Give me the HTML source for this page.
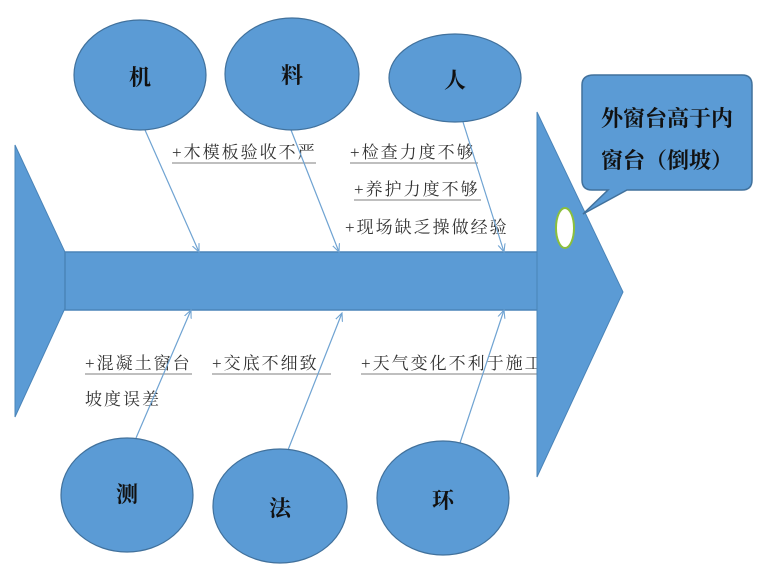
<!DOCTYPE html>
<html><head><meta charset="utf-8"><style>
html,body{margin:0;padding:0;background:#fff;width:760px;height:570px;overflow:hidden}
text{font-family:"Liberation Serif","Noto Serif CJK SC","Noto Sans CJK SC",serif}
</style></head><body>
<svg width="760" height="570" viewBox="0 0 760 570" xmlns="http://www.w3.org/2000/svg">
<defs>
<marker id="a" viewBox="0 0 10 10" refX="9" refY="5" markerWidth="9" markerHeight="9" orient="auto" markerUnits="userSpaceOnUse">
<path d="M0,1 L9,5 L0,9" fill="none" stroke="#6fa3d2" stroke-width="1.2"/></marker>
</defs>
<polygon points="15,145 78,280 15,417" fill="#5b9bd5" stroke="#4a84b8" stroke-width="1"/>
<rect x="65" y="252" width="475" height="58" fill="#5b9bd5" stroke="#4a84b8" stroke-width="1.5"/>
<g font-size="17" fill="#333" letter-spacing="2">
<text x="172" y="158">+木模板验收不严</text>
<text x="350" y="158">+检查力度不够</text>
<text x="354" y="195">+养护力度不够</text>
<text x="345" y="233">+现场缺乏操做经验</text>
<text x="85" y="369">+混凝土窗台</text>
<text x="85" y="405">坡度误差</text>
<text x="212" y="369">+交底不细致</text>
<text x="361" y="369">+天气变化不利于施工</text>
</g>
<g stroke="#aaa" stroke-width="1.5">
<line x1="172" y1="163" x2="316" y2="163"/>
<line x1="350" y1="163" x2="478" y2="163"/>
<line x1="354" y1="200" x2="481" y2="200"/>
<line x1="85" y1="374" x2="192" y2="374"/>
<line x1="212" y1="374" x2="331" y2="374"/>
<line x1="361" y1="374" x2="537" y2="374"/>
</g>
<g stroke="#6fa3d2" stroke-width="1.2" marker-end="url(#a)">
<line x1="145" y1="130" x2="199" y2="252"/>
<line x1="291" y1="130" x2="339" y2="252"/>
<line x1="463" y1="122" x2="504" y2="252"/>
<line x1="136" y1="438" x2="191" y2="310"/>
<line x1="288" y1="450" x2="342" y2="313"/>
<line x1="460" y1="443" x2="504" y2="310"/>
</g>
<polygon points="537,112 623,292 537,477" fill="#5b9bd5" stroke="#4a84b8" stroke-width="1"/>
<ellipse cx="565" cy="228" rx="9" ry="20" fill="#fff" stroke="#8bbf3c" stroke-width="2"/>
<path d="M594,75 H742 Q752,75 752,85 V180 Q752,190 742,190 H627 L583,214 L608,190 H592 Q582,190 582,180 V85 Q582,75 594,75 Z" fill="#5b9bd5" stroke="#41719c" stroke-width="1.5"/>
<g font-size="22" font-weight="bold" fill="#111">
<text x="601" y="126">外窗台高于内</text>
<text x="601" y="168">窗台（倒坡）</text>
</g>
<g fill="#5b9bd5" stroke="#41719c" stroke-width="1.2">
<ellipse cx="140" cy="75" rx="66" ry="55"/>
<ellipse cx="292" cy="74" rx="67" ry="56"/>
<ellipse cx="455" cy="78" rx="66" ry="44"/>
<ellipse cx="127" cy="495" rx="66" ry="57"/>
<ellipse cx="280" cy="506" rx="67" ry="57"/>
<ellipse cx="443" cy="498" rx="66" ry="57"/>
</g>
<g font-size="22" font-weight="bold" fill="#111" text-anchor="middle">
<text x="140" y="85">机</text>
<text x="292" y="83">料</text>
<text x="455" y="88">人</text>
<text x="127" y="502">测</text>
<text x="280" y="516">法</text>
<text x="443" y="508">环</text>
</g>
</svg>
</body></html>
